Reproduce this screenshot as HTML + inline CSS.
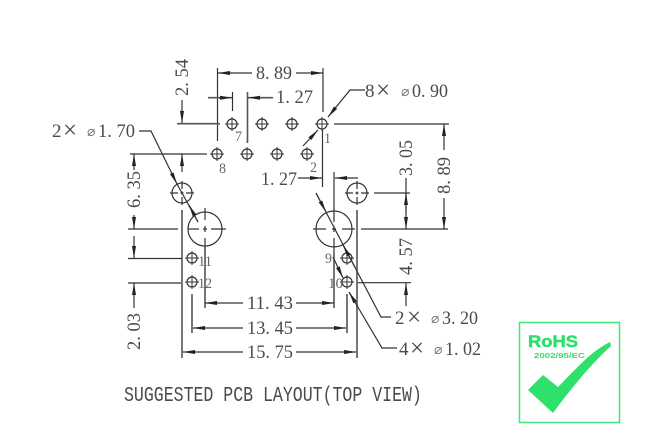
<!DOCTYPE html>
<html><head><meta charset="utf-8"><style>
html,body{margin:0;padding:0;background:#fff;width:650px;height:438px;overflow:hidden}
svg{display:block}
text{font-family:"Liberation Serif",serif;fill:#4a4a4a}
.d{font-size:19px}
.x{font-size:25px}
.o{font-size:14px;font-family:"DejaVu Sans",sans-serif;fill:#777}
.l{stroke:#333;stroke-width:1.2;fill:none}
.g{stroke:#555;stroke-width:1.6;fill:none}
.c{stroke:#333;stroke-width:1.2;fill:none}
.n{font-size:15px;fill:#666}
</style></head><body>
<svg width="650" height="438" viewBox="0 0 650 438" xmlns="http://www.w3.org/2000/svg">
<defs>
<marker id="a" markerWidth="14" markerHeight="6" refX="12" refY="3" orient="auto-start-reverse" markerUnits="userSpaceOnUse"><path d="M0,1L12,3L0,5Z" fill="#222"/></marker>
<g id="p"><circle r="5" class="c"/><path d="M-7,0H7M0,-7V7" stroke="#333" stroke-width="1"/></g>
</defs>

<!-- pins -->
<use href="#p" x="232" y="124"/><use href="#p" x="262" y="124"/><use href="#p" x="292" y="124"/><use href="#p" x="322" y="124"/>
<use href="#p" x="217" y="154"/><use href="#p" x="247" y="154"/><use href="#p" x="277" y="154"/><use href="#p" x="307" y="154"/>
<use href="#p" x="192" y="258"/><use href="#p" x="192" y="282"/><use href="#p" x="347" y="258"/><use href="#p" x="347" y="282"/>

<!-- big holes -->
<circle cx="205" cy="229" r="17" class="c"/><path d="M188,229H199M203,229H207M211,229H226M205,208V220M205,226V232M205,238V250" class="l"/>
<circle cx="334" cy="229" r="18" class="c"/><path d="M313,229H326M332,229H336M342,229H355M334,206V222M334,226V232M334,238V252" class="l"/>
<circle cx="182" cy="193" r="10" class="c"/><path d="M170,193H178M180.500,193H183.500M186,193H194M182,181V189M182,191.500V194.500M182,197V205" class="l"/>
<circle cx="357" cy="193" r="10" class="c"/><path d="M345,193H353M355.500,193H358.500M361,193H369M357,181V189M357,191.500V194.500M357,197V205" class="l"/>

<!-- extension lines -->
<path class="l" d="M217.500,68V141M323,68V112M232.500,92V111M322.500,130V187M334,172V206"/>
<path class="g" d="M247.500,92V143M177,123.700H220M334,124H449M182,210V358M357,210V358M205,245V308M192,294V333M347,294V333M334,252V308"/>
<path class="l" d="M130,154H207M128,229H178M128,258.500H182M128,283H181M374,193H410M358,282.700H411"/>
<path class="g" d="M361,229H448"/>

<!-- dim arrows -->
<path class="l" d="M252,73H218" marker-end="url(#a)"/><path class="l" d="M296,73H323" marker-end="url(#a)"/>
<path class="g" d="M208,97.700H232" marker-end="url(#a)"/><path class="g" d="M273,97.700H248" marker-end="url(#a)"/>
<path class="l" d="M182,100V123" marker-end="url(#a)"/><path class="l" d="M182,172V154" marker-end="url(#a)"/>
<path class="l" d="M134,170V154" marker-end="url(#a)"/><path class="l" d="M134,215V229" marker-end="url(#a)"/>
<path class="l" d="M134,236V258" marker-end="url(#a)"/><path class="l" d="M134,308V283" marker-end="url(#a)"/>
<path class="l" d="M298,178H322" marker-end="url(#a)"/><path class="l" d="M358,178H335" marker-end="url(#a)"/>
<path class="l" d="M406,178V229" marker-end="url(#a)"/><path class="l" d="M406,211V193" marker-end="url(#a)"/>
<path class="l" d="M444,150V124" marker-end="url(#a)"/><path class="l" d="M444,198V229" marker-end="url(#a)"/>
<path class="l" d="M406,306V283" marker-end="url(#a)"/>
<path class="l" d="M243,303H205" marker-end="url(#a)"/><path class="l" d="M296,303H334" marker-end="url(#a)"/>
<path class="l" d="M243,328H193" marker-end="url(#a)"/><path class="l" d="M296,328H346" marker-end="url(#a)"/>
<path class="l" d="M243,352H183" marker-end="url(#a)"/><path class="l" d="M296,352H356" marker-end="url(#a)"/>

<!-- leaders -->
<path class="l" d="M365,90H350L328,117" marker-end="url(#a)"/><path class="l" d="M303,146L318,130" marker-end="url(#a)"/>
<path class="l" d="M139,131H151L177,184" marker-end="url(#a)"/>
<path class="l" d="M177,184L198,222"/><path class="l" d="M198,222L189,205" marker-end="url(#a)"/>
<path class="l" d="M316,193L381,317H391"/><path class="l" d="M316,193L326,212" marker-end="url(#a)"/><path class="l" d="M355,267L343,245" marker-end="url(#a)"/>
<path class="l" d="M333,257L343,278" marker-end="url(#a)"/>
<path class="l" d="M397,348H382L349,292"/><path class="l" d="M358,307L349,292" marker-end="url(#a)"/>

<!-- labels -->
<text class="d" x="256" y="79" textLength="36" lengthAdjust="spacingAndGlyphs">8. 89</text>
<text class="d" x="276" y="103" textLength="37" lengthAdjust="spacingAndGlyphs">1. 27</text>
<text class="d" x="261" y="185" textLength="36" lengthAdjust="spacingAndGlyphs">1. 27</text>
<text class="d" x="247" y="309" textLength="46" lengthAdjust="spacingAndGlyphs">11. 43</text>
<text class="d" x="247" y="334" textLength="46" lengthAdjust="spacingAndGlyphs">13. 45</text>
<text class="d" x="247" y="358" textLength="46" lengthAdjust="spacingAndGlyphs">15. 75</text>

<text class="d" x="365" y="97">8</text><text class="x" x="376" y="98">×</text><text class="o" x="401" y="96">⌀</text><text class="d" x="412" y="97" textLength="36" lengthAdjust="spacingAndGlyphs">0. 90</text>
<text class="d" x="52" y="137">2</text><text class="x" x="63" y="138">×</text><text class="o" x="87" y="136">⌀</text><text class="d" x="98" y="137" textLength="37" lengthAdjust="spacingAndGlyphs">1. 70</text>
<text class="d" x="395" y="324">2</text><text class="x" x="407" y="325">×</text><text class="o" x="431" y="323">⌀</text><text class="d" x="442" y="324" textLength="36" lengthAdjust="spacingAndGlyphs">3. 20</text>
<text class="d" x="399" y="355">4</text><text class="x" x="410" y="356">×</text><text class="o" x="434" y="354">⌀</text><text class="d" x="445" y="355" textLength="36" lengthAdjust="spacingAndGlyphs">1. 02</text>

<text class="d" transform="translate(188,96) rotate(-90)" textLength="37" lengthAdjust="spacingAndGlyphs">2. 54</text>
<text class="d" transform="translate(140,208) rotate(-90)" textLength="37" lengthAdjust="spacingAndGlyphs">6. 35</text>
<text class="d" transform="translate(140,350) rotate(-90)" textLength="37" lengthAdjust="spacingAndGlyphs">2. 03</text>
<text class="d" transform="translate(412,176) rotate(-90)" textLength="36" lengthAdjust="spacingAndGlyphs">3. 05</text>
<text class="d" transform="translate(450,194) rotate(-90)" textLength="37" lengthAdjust="spacingAndGlyphs">8. 89</text>
<text class="d" transform="translate(412,275) rotate(-90)" textLength="37" lengthAdjust="spacingAndGlyphs">4. 57</text>

<text class="n" x="235" y="141" textLength="7" lengthAdjust="spacingAndGlyphs">7</text>
<text class="n" x="219" y="173" textLength="7" lengthAdjust="spacingAndGlyphs">8</text>
<text class="n" x="324" y="143" textLength="7" lengthAdjust="spacingAndGlyphs">1</text>
<text class="n" x="310" y="172" textLength="7" lengthAdjust="spacingAndGlyphs">2</text>
<text class="n" x="198" y="266" textLength="14" lengthAdjust="spacingAndGlyphs">11</text>
<text class="n" x="198" y="288" textLength="14" lengthAdjust="spacingAndGlyphs">12</text>
<text class="n" x="325" y="263" textLength="7" lengthAdjust="spacingAndGlyphs">9</text>
<text class="n" x="328" y="288" textLength="15" lengthAdjust="spacingAndGlyphs">10</text>

<text transform="translate(124,401) scale(1,1.3)" style="font-family:'Liberation Mono',monospace;font-size:16.560px">SUGGESTED PCB LAYOUT(TOP VIEW)</text>

<!-- RoHS -->
<rect x="519.500" y="322.500" width="100" height="100" fill="none" stroke="#3fe87c" stroke-width="1.500"/>
<text x="528" y="347" style="font-family:'Liberation Sans',sans-serif;font-weight:bold;font-size:16.500px;fill:#2fe06a;stroke:#2fe06a;stroke-width:.5" textLength="50" lengthAdjust="spacingAndGlyphs">RoHS</text>
<text x="534" y="358" style="font-family:'Liberation Sans',sans-serif;font-weight:bold;font-size:7.500px;fill:#2fe06a" textLength="51" lengthAdjust="spacingAndGlyphs">2002/95/EC</text>
<path d="M528,390L543,375L558,387C575,370 590,352 610,342L611,346C590,365 570,390 553,413Z" fill="#2fe06a"/>
</svg>
</body></html>
